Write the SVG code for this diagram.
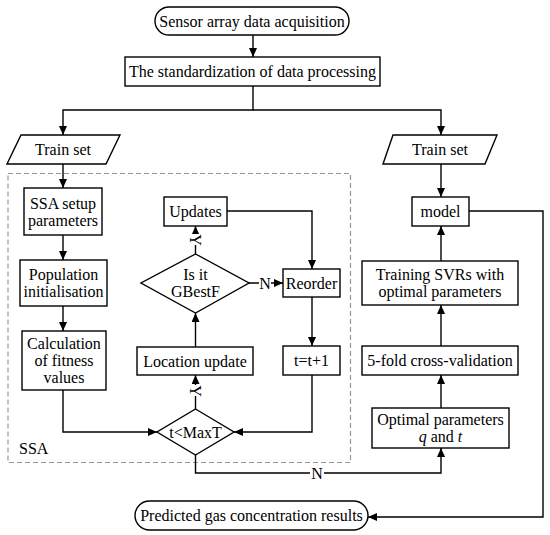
<svg xmlns="http://www.w3.org/2000/svg" width="550" height="535" viewBox="0 0 550 535">
<defs>
<style>
.n{fill:#fff;stroke:#000;stroke-width:1.4}
.t{font-family:'Liberation Serif','Tinos','Times New Roman','DejaVu Serif',serif;font-size:16px;fill:#000;text-anchor:middle}
.c{fill:none;stroke:#000;stroke-width:1.4}
.a{marker-end:url(#ah)}
.lb{fill:#fff;stroke:none}
</style>
<marker id="ah" markerUnits="userSpaceOnUse" markerWidth="9" markerHeight="8" refX="9" refY="4" orient="auto">
<path d="M0,0 L9,4 L0,8 z" fill="#000"/>
</marker>
</defs>
<rect width="550" height="535" fill="#fff"/>

<g id="ssa-frame">
<rect x="8" y="173.5" width="342.5" height="289" fill="none" stroke="#999" stroke-width="1.2" stroke-dasharray="5,3"/>
<text class="t" x="19" y="454" font-family="Liberation Serif, serif" style="text-anchor:start">SSA</text>
</g>

<g id="connectors">
<path class="c a" d="M253,35 V57"/>
<path class="c a" d="M253,86 V110 H63 V135"/>
<path class="c a" d="M253,110 H441 V135"/>
<path class="c a" d="M63,164 V188"/>
<path class="c a" d="M63,235 V260"/>
<path class="c a" d="M63,306 V331"/>
<path class="c a" d="M63,390 V432 H157"/>
<path class="c a" d="M195.5,409 V375"/>
<path class="c a" d="M195.5,347 V313"/>
<path class="c a" d="M195.5,254 V226"/>
<path class="c a" d="M249,283 H283"/>
<path class="c a" d="M227,211 H312 V269"/>
<path class="c a" d="M312,297 V346"/>
<path class="c a" d="M312,375 V432 H234"/>
<path class="c a" d="M195.5,455 V473 H441 V448"/>
<path class="c a" d="M441,408 V375"/>
<path class="c a" d="M441,346 V305"/>
<path class="c a" d="M441,261 V226"/>
<path class="c a" d="M441,164 V197"/>
<path class="c a" d="M469,211 H543 V517 H368"/>
<rect class="lb" x="188" y="234" width="15" height="11"/>
<text class="t" transform="translate(195.5,240) rotate(90)" y="5.5">Y</text>
<rect class="lb" x="188" y="385" width="15" height="11"/>
<text class="t" transform="translate(195.5,391) rotate(90)" y="5.5">Y</text>
<rect class="lb" x="259" y="277" width="12" height="12"/>
<text class="t" x="265" y="288.5">N</text>
<rect class="lb" x="310" y="467" width="14" height="12"/>
<text class="t" x="317" y="478.5">N</text>
</g>

<g id="sensor">
<rect class="n" x="155" y="7" width="194" height="28" rx="14"/>
<text class="t" x="252" y="26.5">Sensor array data acquisition</text>
</g>
<g id="standardization">
<rect class="n" x="125" y="57" width="255" height="29"/>
<text class="t" x="252.5" y="77">The standardization of data processing</text>
</g>
<g id="train-left">
<polygon class="n" points="21,135 120,135 106,164 7,164"/>
<text class="t" x="63" y="155">Train set</text>
</g>
<g id="train-right">
<polygon class="n" points="393,135 497,135 485,164 383,164"/>
<text class="t" x="440" y="155">Train set</text>
</g>
<g id="ssa-setup">
<rect class="n" x="24" y="188" width="78" height="47"/>
<text class="t" x="63" y="208.5">SSA setup</text>
<text class="t" x="63" y="225.5">parameters</text>
</g>
<g id="population">
<rect class="n" x="20" y="260" width="87" height="46"/>
<text class="t" x="63.5" y="280">Population</text>
<text class="t" x="63.5" y="297">initialisation</text>
</g>
<g id="calculation">
<rect class="n" x="22" y="331" width="84" height="59"/>
<text class="t" x="64" y="349">Calculation</text>
<text class="t" x="64" y="366">of fitness</text>
<text class="t" x="64" y="383">values</text>
</g>
<g id="updates">
<rect class="n" x="164" y="197" width="63" height="29"/>
<text class="t" x="195.5" y="217">Updates</text>
</g>
<g id="gbestf">
<polygon class="n" points="195.5,254 249,283 195.5,313 141,283"/>
<text class="t" x="195.5" y="280">Is it</text>
<text class="t" x="195.5" y="297">GBestF</text>
</g>
<g id="location-update">
<rect class="n" x="137" y="347" width="116" height="28"/>
<text class="t" x="195" y="366.5">Location update</text>
</g>
<g id="reorder">
<rect class="n" x="283" y="269" width="57" height="28"/>
<text class="t" x="311.5" y="288.5">Reorder</text>
</g>
<g id="t-increment">
<rect class="n" x="283" y="346" width="57" height="29"/>
<text class="t" x="311.5" y="366">t=t+1</text>
</g>
<g id="maxt">
<polygon class="n" points="195.5,409 234,432 195.5,455 157,432"/>
<text class="t" x="195.5" y="437.5">t&lt;MaxT</text>
</g>
<g id="model">
<rect class="n" x="412" y="197" width="57" height="29"/>
<text class="t" x="440.5" y="217">model</text>
</g>
<g id="training">
<rect class="n" x="362" y="261" width="156" height="44"/>
<text class="t" x="440" y="280">Training SVRs with</text>
<text class="t" x="440" y="297">optimal parameters</text>
</g>
<g id="cross-validation">
<rect class="n" x="362" y="346" width="156" height="29"/>
<text class="t" x="440" y="366">5-fold cross-validation</text>
</g>
<g id="optimal">
<rect class="n" x="372" y="408" width="137" height="40"/>
<text class="t" x="440.5" y="425">Optimal parameters</text>
<text class="t" x="440.5" y="442"><tspan font-style="italic">q</tspan> and <tspan font-style="italic">t</tspan></text>
</g>
<g id="predicted">
<rect class="n" x="135" y="501" width="233" height="29" rx="14.5"/>
<text class="t" x="251.5" y="521">Predicted gas concentration results</text>
</g>
</svg>
